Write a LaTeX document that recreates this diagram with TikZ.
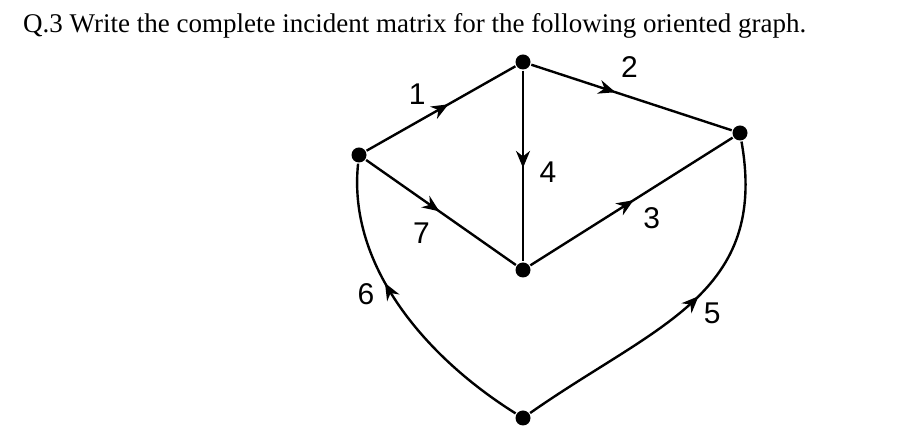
\documentclass[tikz,border=0pt]{standalone}
\usepackage{fontspec}
\setmainfont{Liberation Serif}
\setsansfont{Liberation Sans}
\usepackage{tikz}
\usetikzlibrary{arrows.meta}
\usetikzlibrary{decorations.markings}
\tikzset{
  vertex/.style={circle,fill,inner sep=0pt,minimum size=7.5pt},
  edgelabel/.style={font=\sffamily\fontsize{15}{17}\selectfont,inner sep=0pt},
  midarrow/.style={postaction={decorate,decoration={markings,
    mark=at position #1 with {\arrow{Stealth[length=8.5pt,width=7pt]}}}}}
}

\begin{document}
\begin{tikzpicture}[x=0.5pt,y=0.5pt,line width=1.2pt]
  \useasboundingbox (0,0) rectangle (907,439);
  \node[anchor=base west,inner sep=0pt,font=\fontsize{13.5}{16}\selectfont] (title) at (22,406)
    {Q.3 Write the complete incident matrix for the following oriented graph.};
  \node[vertex] (A) at (523,377) {};
  \node[vertex] (B) at (359,284) {};
  \node[vertex] (C) at (740,306) {};
  \node[vertex] (D) at (523,169) {};
  \node[vertex] (E) at (523,21)  {};
  \draw[midarrow=0.55] (B) -- node[edgelabel,pos=.34,yshift=14pt] {1} (A);
  \draw[midarrow=0.42] (A) -- node[edgelabel,pos=.49,yshift=15pt] {2} (C);
  \draw[midarrow=0.51] (D) -- node[edgelabel,pos=.6,yshift=-14.5pt] {3} (C);
  \draw[midarrow=0.51] (A) -- node[edgelabel,pos=.53,xshift=12.5pt] {4} (D);
  \draw[midarrow=0.55] (E) to[out=35,in=-80,looseness=1.15]
    node[edgelabel,pos=.52,xshift=7pt,yshift=-8.5pt] {5} (C);
  \draw[midarrow=0.6] (E) to[out=148,in=-96,looseness=0.9]
    node[edgelabel,pos=.57,xshift=-11pt,yshift=-3pt] {6} (B);
  \draw[midarrow=0.49] (B) -- node[edgelabel,pos=.37,yshift=-17pt] {7} (D);
\end{tikzpicture}
\end{document}
